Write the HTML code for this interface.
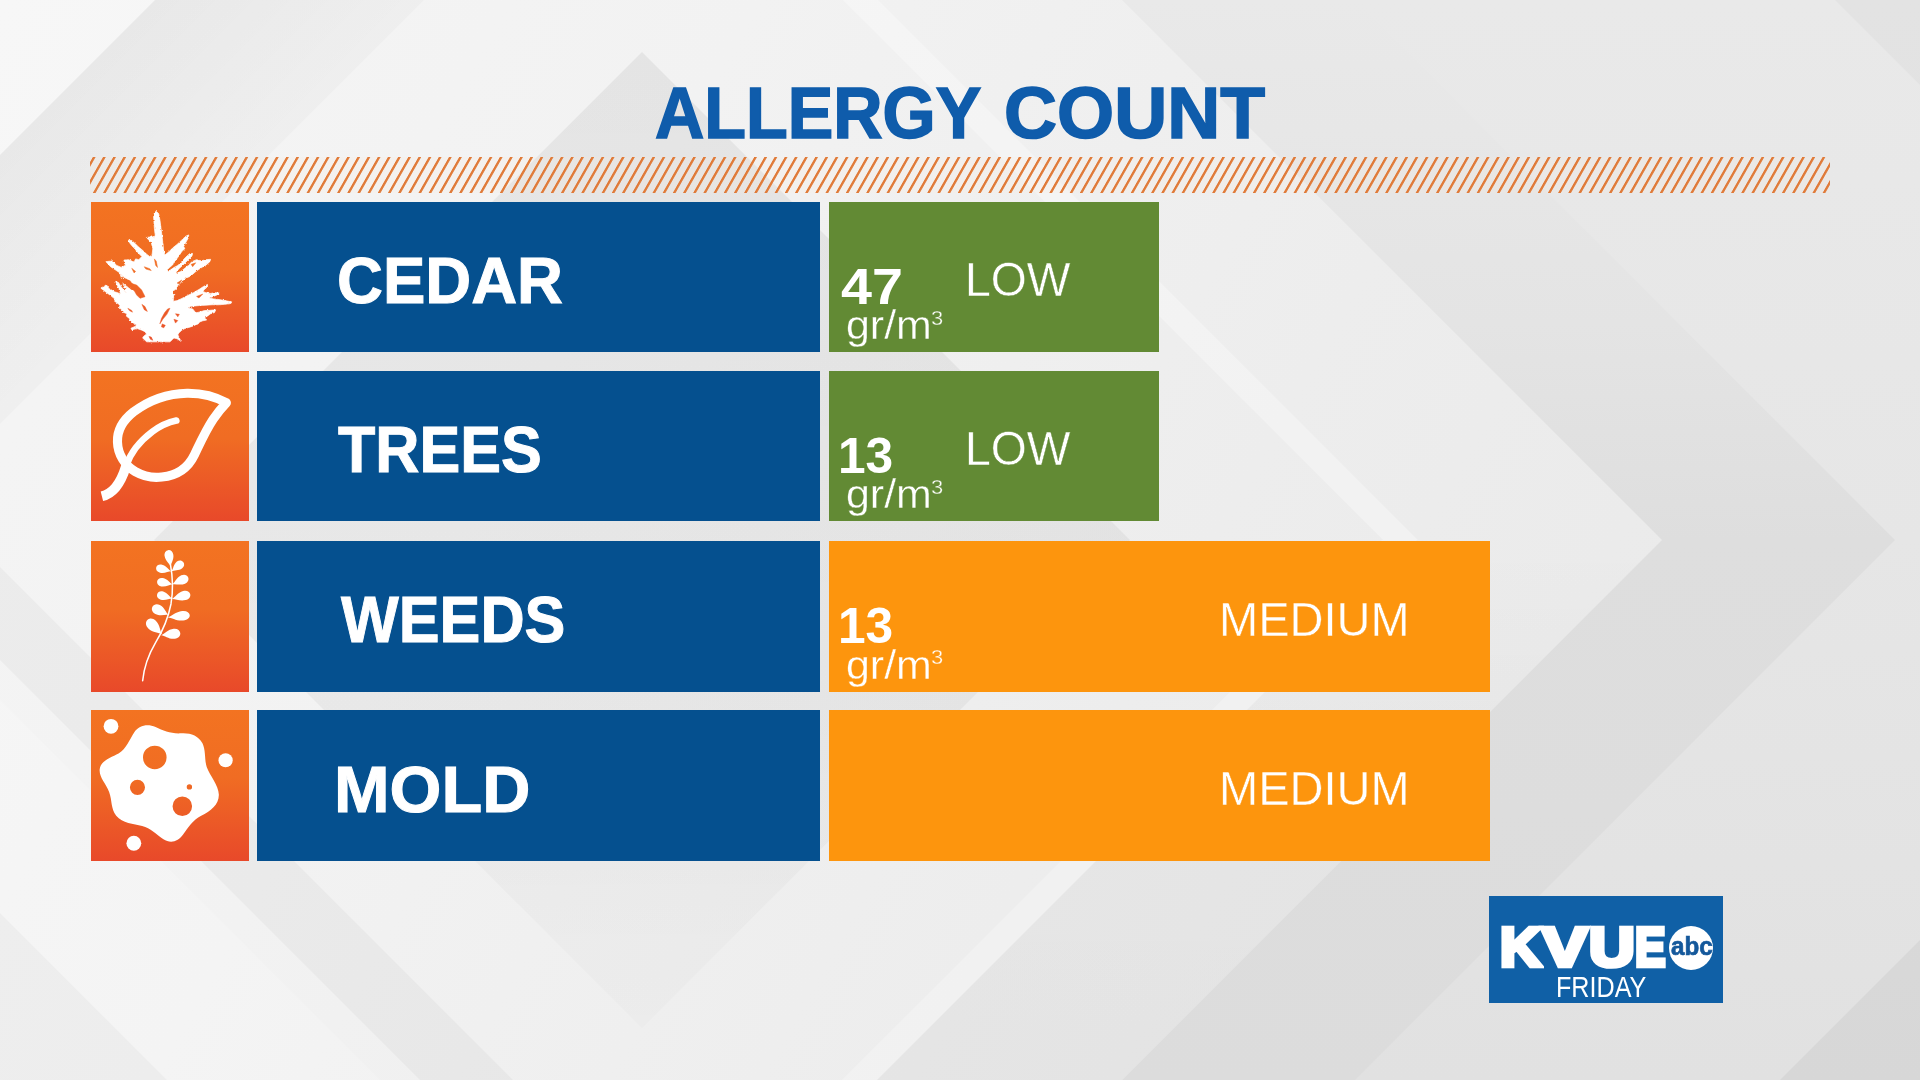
<!DOCTYPE html>
<html lang="en"><head><meta charset="utf-8"><title>Allergy Count</title>
<style>
html,body,h1{margin:0;padding:0;font-weight:400}
sup{vertical-align:baseline}
b.t{font-weight:700}
body{width:1920px;height:1080px;overflow:hidden;position:relative;background:#ececec;font-family:"Liberation Sans", sans-serif}
.abs,.t,.tile,.label,.val,.ico,.logo,.abcc,#bg{position:absolute}
#bg{left:0;top:0}
.t{line-height:0;white-space:nowrap;transform-origin:0 0;display:block}
.tile{background:linear-gradient(180deg,#f37321 0%,#f06c23 45%,#e8492a 100%)}
.label{background:#05508f}
.low{background:#628a34}
.med{background:#fd950d}
.logo{background:#1060a6}
.abcc{background:#fff;border-radius:50%}
.kv{position:absolute;display:block;line-height:0;white-space:nowrap;color:#fff;font-weight:700;-webkit-text-stroke:4.6px #fff}
.kv i{font-style:normal;display:inline-block;transform-origin:0 0}
</style></head>
<body>
<svg id="bg" width="1920" height="1080" viewBox="0 0 1920 1080">
<defs>
<linearGradient id="g0" x1="0" y1="0" x2="1920" y2="1080" gradientUnits="userSpaceOnUse"><stop offset="0" stop-color="#f5f5f5"/><stop offset=".3" stop-color="#f2f2f2"/><stop offset=".6" stop-color="#ededed"/><stop offset="1" stop-color="#e8e8e8"/></linearGradient>
<linearGradient id="gc1" x1="0" y1="0" x2="0" y2="1080" gradientUnits="userSpaceOnUse"><stop offset="0" stop-color="#e9e9e9"/><stop offset=".3" stop-color="#e4e4e4"/><stop offset=".5" stop-color="#dedede"/><stop offset="1" stop-color="#dcdcdc"/></linearGradient>
<linearGradient id="gc2" x1="0" y1="0" x2="0" y2="1080" gradientUnits="userSpaceOnUse"><stop offset="0" stop-color="#e9e9e9"/><stop offset=".5" stop-color="#e6e6e6"/><stop offset="1" stop-color="#e1e1e1"/></linearGradient>
<linearGradient id="gd" x1="0" y1="52" x2="0" y2="1028" gradientUnits="userSpaceOnUse"><stop offset="0" stop-color="#000" stop-opacity=".058"/><stop offset=".3" stop-color="#000" stop-opacity=".05"/><stop offset=".7" stop-color="#000" stop-opacity=".04"/><stop offset=".88" stop-color="#000" stop-opacity=".02"/><stop offset="1" stop-color="#000" stop-opacity=".014"/></linearGradient>
<linearGradient id="gl" x1="0" y1="540" x2="0" y2="1080" gradientUnits="userSpaceOnUse"><stop offset="0" stop-color="#000" stop-opacity="0"/><stop offset=".6" stop-color="#000" stop-opacity=".03"/><stop offset="1" stop-color="#000" stop-opacity=".035"/></linearGradient>
<linearGradient id="gtl" x1="77.5" y1="77.5" x2="210" y2="210" gradientUnits="userSpaceOnUse"><stop offset="0" stop-color="#000" stop-opacity=".03"/><stop offset="1" stop-color="#000" stop-opacity="0"/></linearGradient>
</defs>
<rect width="1920" height="1080" fill="url(#g0)"/>
<polygon points="0,0 424,0 0,424" fill="#000" fill-opacity=".018"/>
<polygon points="155,0 420,0 0,420 0,155" fill="url(#gtl)"/>
<polygon points="0,0 155,0 0,155" fill="#fff" fill-opacity=".45"/>
<polygon points="0,567 0,660 420,1080 513,1080" fill="#000" fill-opacity=".03"/>
<polygon points="0,700 0,913 167,1080 380,1080" fill="#fff" fill-opacity=".18"/>
<polygon points="0,913 0,1080 167,1080" fill="#000" fill-opacity=".02"/>
<polygon points="642,52 1130,540 642,1028 154,540" fill="url(#gd)"/>
<polygon points="1417,540 1662,540 1122,1080 877,1080" fill="url(#gl)"/>
<polygon points="1122,0 1920,0 1920,1080 1122,1080 1662,540" fill="url(#gc1)"/>
<polygon points="1355,0 1920,0 1920,1080 1355,1080 1895,540" fill="url(#gc2)"/>
<polygon points="843,0 878,0 1418,540 1383,540" fill="#fff" fill-opacity=".3"/>
<polygon points="1382,540 1417,540 877,1080 842,1080" fill="#fff" fill-opacity=".25"/>
<polygon points="1835,0 1920,0 1920,85" fill="#000" fill-opacity=".025"/>
<polygon points="1920,940 1920,1080 1780,1080" fill="#000" fill-opacity=".045"/>
</svg>

<h1><span class="t" style="left:655.23px;top:113.00px;font-size:71.80px;font-weight:700;color:#0f5cab;transform:scaleX(0.9511);-webkit-text-stroke:1.6px #0f5cab;">ALLERGY</span> <span class="t" style="left:1003.70px;top:113.00px;font-size:71.80px;font-weight:700;color:#0f5cab;transform:scaleX(1.0228);-webkit-text-stroke:1.6px #0f5cab;">COUNT</span></h1>
<svg class="abs" style="left:90px;top:157px" width="1740" height="36" viewBox="0 0 1740 36"><defs><pattern id="hp" width="10.175" height="36" patternUnits="userSpaceOnUse" patternTransform="translate(2.9 0) skewX(-29.6)"><rect x="0" y="0" width="2.7" height="36" fill="#e07a38"/></pattern></defs><rect x="0" y="0" width="1740" height="36" fill="#ffe9d8" fill-opacity=".14"/><rect x="-40" y="0" width="1820" height="36" fill="url(#hp)" /></svg>
<main>
<section class="row" aria-label="Cedar">
<div class="tile" style="left:91.2px;top:201.8px;width:157.6px;height:150.4px"><svg class="ico" style="left:-11.2px;top:-11.8px" width="190" height="170" viewBox="0 0 1207 1080"><defs><filter id="rough" x="0" y="0" width="1207" height="1080" filterUnits="userSpaceOnUse"><feTurbulence type="fractalNoise" baseFrequency="0.085" numOctaves="2" seed="4" result="n"/><feDisplacementMap in="SourceGraphic" in2="n" scale="16" xChannelSelector="R" yChannelSelector="G"/></filter><mask id="cm"><rect width="1207" height="1080" fill="#fff"/><path transform="translate(95.29,95.29) scale(0.4963)" d="M760,690 L785,720 L800,800 L775,770Z M630,790 L700,815 L720,840 L650,820Z M470,810 L520,850 L500,870Z M600,1272 L640,1300 L670,1362 L630,1340Z M420,1322 L470,1350 L480,1372 L440,1352Z M960,1322 L920,1400 L870,1460 L830,1522 L850,1452 L890,1380 L930,1330Z M860,1522 L900,1540 L880,1572 L850,1560Z M1030,1392 L1080,1400 L1060,1432Z M1010,1462 L1060,1480 L1030,1512Z M690,1682 L720,1690 L740,1732 L710,1720Z M1050,1000 L1110,960 L1080,1010Z M1230,760 L1290,740 L1250,790Z M1300,1170 L1380,1140 L1330,1190Z M459,1003 L533,1024 L597,1088 L640,1173 L576,1195 L533,1152 L491,1077Z" fill="#000" stroke="#000" stroke-width="6" stroke-linejoin="round"/></mask></defs><g mask="url(#cm)" filter="url(#rough)"><path transform="translate(95.29,95.29) scale(0.4963)" fill="#fff" stroke="#fff" stroke-width="9" stroke-linejoin="round" d="M780,80 L815,110 L832,200 L845,300 L858,400 L870,500 L880,600 L895,640 L950,595 L1000,545 L1050,505 L1110,450 L1160,400 L1200,383 L1195,420 L1165,475 L1135,530 L1150,560 L1115,590 L1075,650 L1035,705 L995,765 L955,800 L915,835 L940,850 L1010,800 L1060,775 L1110,725 L1160,670 L1210,625 L1250,620 L1240,655 L1200,695 L1165,730 L1120,775 L1080,810 L1045,850 L1030,880 L1100,850 L1150,810 L1200,770 L1240,725 L1300,700 L1360,715 L1420,700 L1480,695 L1470,725 L1420,770 L1375,795 L1320,830 L1290,852 L1220,912 L1150,942 L1100,992 L1060,1032 L1040,1072 L1000,1102 L1010,1162 L1000,1232 L1040,1227 L1100,1202 L1180,1162 L1260,1122 L1330,1082 L1390,1042 L1440,1017 L1440,1047 L1400,1082 L1380,1107 L1420,1122 L1480,1132 L1540,1122 L1590,1127 L1560,1152 L1500,1177 L1460,1192 L1520,1202 L1600,1212 L1680,1227 L1750,1240 L1740,1262 L1660,1272 L1580,1277 L1500,1277 L1420,1282 L1340,1287 L1280,1292 L1220,1297 L1200,1322 L1250,1330 L1290,1380 L1330,1372 L1400,1352 L1480,1347 L1545,1342 L1530,1377 L1480,1392 L1440,1422 L1400,1442 L1430,1472 L1380,1482 L1340,1497 L1320,1522 L1290,1532 L1250,1552 L1200,1567 L1150,1582 L1110,1602 L1080,1632 L1060,1662 L1080,1702 L1100,1745 L1050,1712 L1010,1702 L990,1722 L960,1752 L660,1752 L640,1732 L610,1702 L620,1682 L660,1652 L640,1622 L600,1602 L540,1582 L470,1597 L460,1577 L520,1552 L530,1532 L490,1512 L450,1482 L440,1452 L400,1422 L410,1392 L360,1372 L340,1342 L310,1312 L320,1282 L280,1252 L250,1232 L260,1212 L230,1182 L190,1152 L150,1122 L110,1092 L75,1065 L120,1047 L130,1027 L155,1032 L180,1072 L220,1092 L250,1112 L290,1122 L325,1140 L318,1102 L290,1042 L265,978 L300,992 L332,1042 L365,1085 L400,1128 L385,1062 L350,998 L392,1030 L432,1062 L472,1094 L520,1104 L560,1134 L600,1156 L640,1190 L630,1162 L600,1122 L540,1082 L520,1032 L480,1002 L450,962 L400,942 L350,912 L315,865 L340,940 L350,900 L320,870 L260,830 L200,790 L140,725 L230,715 L270,770 L340,800 L390,770 L370,705 L430,700 L500,730 L520,690 L560,700 L600,660 L540,600 L500,550 L470,520 L440,480 L425,450 L470,455 L510,490 L560,540 L610,580 L660,630 L700,660 L730,640 L740,560 L720,480 L680,440 L660,415 L700,410 L725,395 L745,420 L760,400 L765,440 L770,380 L760,300 L755,220 L750,150 L760,100Z"/></g></svg></div>
<div class="label" style="left:257.3px;top:201.8px;width:562.7px;height:150.4px"><span class="t" style="left:79.21px;top:79.50px;font-size:65.41px;font-weight:700;color:#fff;transform:scaleX(0.9713);-webkit-text-stroke:1.0px #fff;">CEDAR</span></div>
<div class="val low" style="left:829.2px;top:201.8px;width:330.0px;height:150.4px"><b class="t" style="left:11.60px;top:85.10px;font-size:50.29px;font-weight:700;color:#fff;transform:scaleX(1.1077);">47</b><span class="unit"><span class="t" style="left:16.76px;top:124.40px;font-size:40.15px;color:#fff;transform:scaleX(1.0692);-webkit-text-stroke:.35px #628a34;">gr/m</span><sup class="t" style="left:102.12px;top:116.10px;font-size:19.57px;color:#fff;transform:scaleX(1.1182);-webkit-text-stroke:.3px #628a34;">3</sup></span><span class="t" style="left:135.99px;top:78.50px;font-size:47.24px;color:#fff;transform:scaleX(0.9794);-webkit-text-stroke:.4px #628a34;">LOW</span></div>
</section>
<section class="row" aria-label="Trees">
<div class="tile" style="left:91.2px;top:370.7px;width:157.6px;height:150.3px"><svg class="ico" style="left:-11.2px;top:-10.7px" width="190" height="170" viewBox="0 0 1207 1080"><g fill="none" stroke="#fff" stroke-linecap="round" stroke-linejoin="round"><path stroke-width="58" d="M930,272 C850,226 760,210 680,211 C560,213 440,255 340,330 C270,385 236,450 238,520 C240,600 285,670 350,708 C410,742 470,750 520,743 C618,734 688,684 728,600 C764,525 798,448 846,376 C872,338 900,303 930,272 Z"/><path stroke-width="62" stroke-linecap="butt" d="M139,866 C178,856 204,836 226,810 C260,768 278,722 292,675"/><path stroke-width="42" d="M292,675 C320,590 380,515 460,455 C515,415 565,395 612,385"/></g></svg></div>
<div class="label" style="left:257.3px;top:370.7px;width:562.7px;height:150.3px"><span class="t" style="left:80.80px;top:79.50px;font-size:65.41px;font-weight:700;color:#fff;transform:scaleX(0.9342);-webkit-text-stroke:1.0px #fff;">TREES</span></div>
<div class="val low" style="left:829.2px;top:370.7px;width:330.0px;height:150.3px"><b class="t" style="left:9.20px;top:85.10px;font-size:50.29px;font-weight:700;color:#fff;transform:scaleX(0.9876);">13</b><span class="unit"><span class="t" style="left:16.76px;top:124.40px;font-size:40.15px;color:#fff;transform:scaleX(1.0692);-webkit-text-stroke:.35px #628a34;">gr/m</span><sup class="t" style="left:102.12px;top:116.10px;font-size:19.57px;color:#fff;transform:scaleX(1.1182);-webkit-text-stroke:.3px #628a34;">3</sup></span><span class="t" style="left:135.99px;top:78.50px;font-size:47.24px;color:#fff;transform:scaleX(0.9794);-webkit-text-stroke:.4px #628a34;">LOW</span></div>
</section>
<section class="row" aria-label="Weeds">
<div class="tile" style="left:91.2px;top:541.0px;width:157.6px;height:150.6px"><svg class="ico" style="left:-11.2px;top:-11.0px" width="190" height="170" viewBox="0 0 1207 1080"><g fill="#fff"><path transform="translate(576,232) rotate(-98.7)" d="M0,0 C18.9,-4.2 40.0,-28.0 71.6,-28.0 C92.6,-28.0 105.2,-15.4 105.2,0 C105.2,15.4 92.6,28.0 71.6,28.0 C40.0,28.0 18.9,4.2 0,0Z"/><path transform="translate(580,262) rotate(-166.0)" d="M0,0 C17.8,-3.9 37.6,-26.0 67.3,-26.0 C87.1,-26.0 99.0,-14.3 99.0,0 C99.0,14.3 87.1,26.0 67.3,26.0 C37.6,26.0 17.8,3.9 0,0Z"/><path transform="translate(582,262) rotate(-38.6)" d="M0,0 C17.0,-4.0 36.0,-27.0 64.4,-27.0 C83.3,-27.0 94.6,-14.9 94.6,0 C94.6,14.9 83.3,27.0 64.4,27.0 C36.0,27.0 17.0,4.0 0,0Z"/><path transform="translate(588,345) rotate(-169.0)" d="M0,0 C18.0,-4.0 37.9,-27.0 67.9,-27.0 C87.8,-27.0 99.8,-14.9 99.8,0 C99.8,14.9 87.8,27.0 67.9,27.0 C37.9,27.0 18.0,4.0 0,0Z"/><path transform="translate(588,345) rotate(-24.4)" d="M0,0 C19.6,-4.3 41.3,-29.0 73.9,-29.0 C95.7,-29.0 108.7,-16.0 108.7,0 C108.7,16.0 95.7,29.0 73.9,29.0 C41.3,29.0 19.6,4.3 0,0Z"/><path transform="translate(586,436) rotate(-163.7)" d="M0,0 C18.0,-4.0 38.0,-27.0 68.0,-27.0 C88.0,-27.0 100.0,-14.9 100.0,0 C100.0,14.9 88.0,27.0 68.0,27.0 C38.0,27.0 18.0,4.0 0,0Z"/><path transform="translate(584,438) rotate(-15.4)" d="M0,0 C21.7,-4.5 45.7,-30.0 81.8,-30.0 C105.9,-30.0 120.3,-16.5 120.3,0 C120.3,16.5 105.9,30.0 81.8,30.0 C45.7,30.0 21.7,4.5 0,0Z"/><path transform="translate(563,540) rotate(-153.2)" d="M0,0 C20.8,-4.8 43.8,-32.0 78.5,-32.0 C101.5,-32.0 115.4,-17.6 115.4,0 C115.4,17.6 101.5,32.0 78.5,32.0 C43.8,32.0 20.8,4.8 0,0Z"/><path transform="translate(558,556) rotate(-6.6)" d="M0,0 C25.2,-4.5 53.2,-30.0 95.1,-30.0 C123.1,-30.0 139.9,-16.5 139.9,0 C139.9,16.5 123.1,30.0 95.1,30.0 C53.2,30.0 25.2,4.5 0,0Z"/><path transform="translate(521,662) rotate(-135.9)" d="M0,0 C23.3,-5.1 49.2,-34.0 88.0,-34.0 C113.9,-34.0 129.4,-18.7 129.4,0 C129.4,18.7 113.9,34.0 88.0,34.0 C49.2,34.0 23.3,5.1 0,0Z"/><path transform="translate(516,668) rotate(-6.1)" d="M0,0 C21.9,-4.8 46.2,-32.0 82.8,-32.0 C107.1,-32.0 121.7,-17.6 121.7,0 C121.7,17.6 107.1,32.0 82.8,32.0 C46.2,32.0 21.9,4.8 0,0Z"/></g><path fill="none" stroke="#fff" stroke-width="9.5" stroke-linecap="round" d="M398,958 C405,880 430,800 480,715 C520,650 560,560 578,470 C592,390 590,300 574,215"/></svg></div>
<div class="label" style="left:257.3px;top:541.0px;width:562.7px;height:150.6px"><span class="t" style="left:84.20px;top:79.20px;font-size:65.12px;font-weight:700;color:#fff;transform:scaleX(0.9398);-webkit-text-stroke:1.0px #fff;">WEEDS</span></div>
<div class="val med" style="left:829.2px;top:541.0px;width:660.8px;height:150.6px"><b class="t" style="left:9.20px;top:85.30px;font-size:50.29px;font-weight:700;color:#fff;transform:scaleX(0.9876);">13</b><span class="unit"><span class="t" style="left:16.76px;top:124.60px;font-size:40.15px;color:#fff;transform:scaleX(1.0692);-webkit-text-stroke:.35px #fd950d;">gr/m</span><sup class="t" style="left:102.12px;top:116.30px;font-size:19.57px;color:#fff;transform:scaleX(1.1182);-webkit-text-stroke:.3px #fd950d;">3</sup></span><span class="t" style="left:389.93px;top:78.40px;font-size:48.69px;color:#fff;transform:scaleX(0.9655);-webkit-text-stroke:.4px #fd950d;">MEDIUM</span></div>
</section>
<section class="row" aria-label="Mold">
<div class="tile" style="left:91.2px;top:710.0px;width:157.6px;height:150.6px"><svg class="ico" style="left:-11.2px;top:-10.0px" width="190" height="170" viewBox="0 0 1207 1080"><path fill="#fff" fill-rule="evenodd" d="M345,205 C375,160 430,150 480,172 C530,195 575,215 640,212 C700,208 750,225 778,275 C800,320 790,380 805,425 C825,480 880,540 882,600 C884,665 830,705 770,735 C715,765 690,805 655,855 C625,900 575,915 530,885 C480,850 450,815 395,800 C340,785 270,785 230,735 C195,690 205,640 185,585 C165,530 120,490 125,440 C130,385 200,365 245,340 C295,310 315,250 345,205 Z M475,365 m-75,0 a75,75 0 1,0 150,0 a75,75 0 1,0 -150,0 Z M365,555 m-48,0 a48,48 0 1,0 96,0 a48,48 0 1,0 -96,0 Z M650,675 m-62,0 a62,62 0 1,0 124,0 a62,62 0 1,0 -124,0 Z M695,552 m-17,0 a17,17 0 1,0 34,0 a17,17 0 1,0 -34,0 Z"/><circle cx="197" cy="167" r="47" fill="#fff"/><circle cx="925" cy="383" r="45" fill="#fff"/><circle cx="342" cy="910" r="47" fill="#fff"/></svg></div>
<div class="label" style="left:257.3px;top:710.0px;width:562.7px;height:150.6px"><span class="t" style="left:76.93px;top:80.00px;font-size:65.55px;font-weight:700;color:#fff;transform:scaleX(1.0176);-webkit-text-stroke:1.0px #fff;">MOLD</span></div>
<div class="val med" style="left:829.2px;top:710.0px;width:660.8px;height:150.6px"><span class="t" style="left:389.93px;top:78.30px;font-size:48.84px;color:#fff;transform:scaleX(0.9626);-webkit-text-stroke:.4px #fd950d;">MEDIUM</span></div>
</section>
</main>
<div class="logo" style="left:1489.0px;top:896.0px;width:233.8px;height:107.2px"><span class="kv" style="left:-1489.0px;top:50.95px;font-size:56.0px"><i style="position:absolute;left:1499.74px;top:0;transform:scaleX(1.0177)">K</i><i style="position:absolute;left:1541.80px;top:0;transform:scaleX(1.2199)">V</i><i style="position:absolute;left:1588.63px;top:0;transform:scaleX(1.1314)">U</i><i style="position:absolute;left:1634.74px;top:0;transform:scaleX(0.8185)">E</i></span><div class="abcc" style="left:180.0px;top:29.5px;width:44px;height:44px"><span class="t" style="left:1.52px;top:20.00px;font-size:25.65px;font-weight:700;color:#14589b;transform:scaleX(0.9430);-webkit-text-stroke:.7px #14589b;">abc</span></div><span class="t" style="left:67.14px;top:91.00px;font-size:29.80px;color:#fff;transform:scaleX(0.8438);">FRIDAY</span></div>
</body></html>
